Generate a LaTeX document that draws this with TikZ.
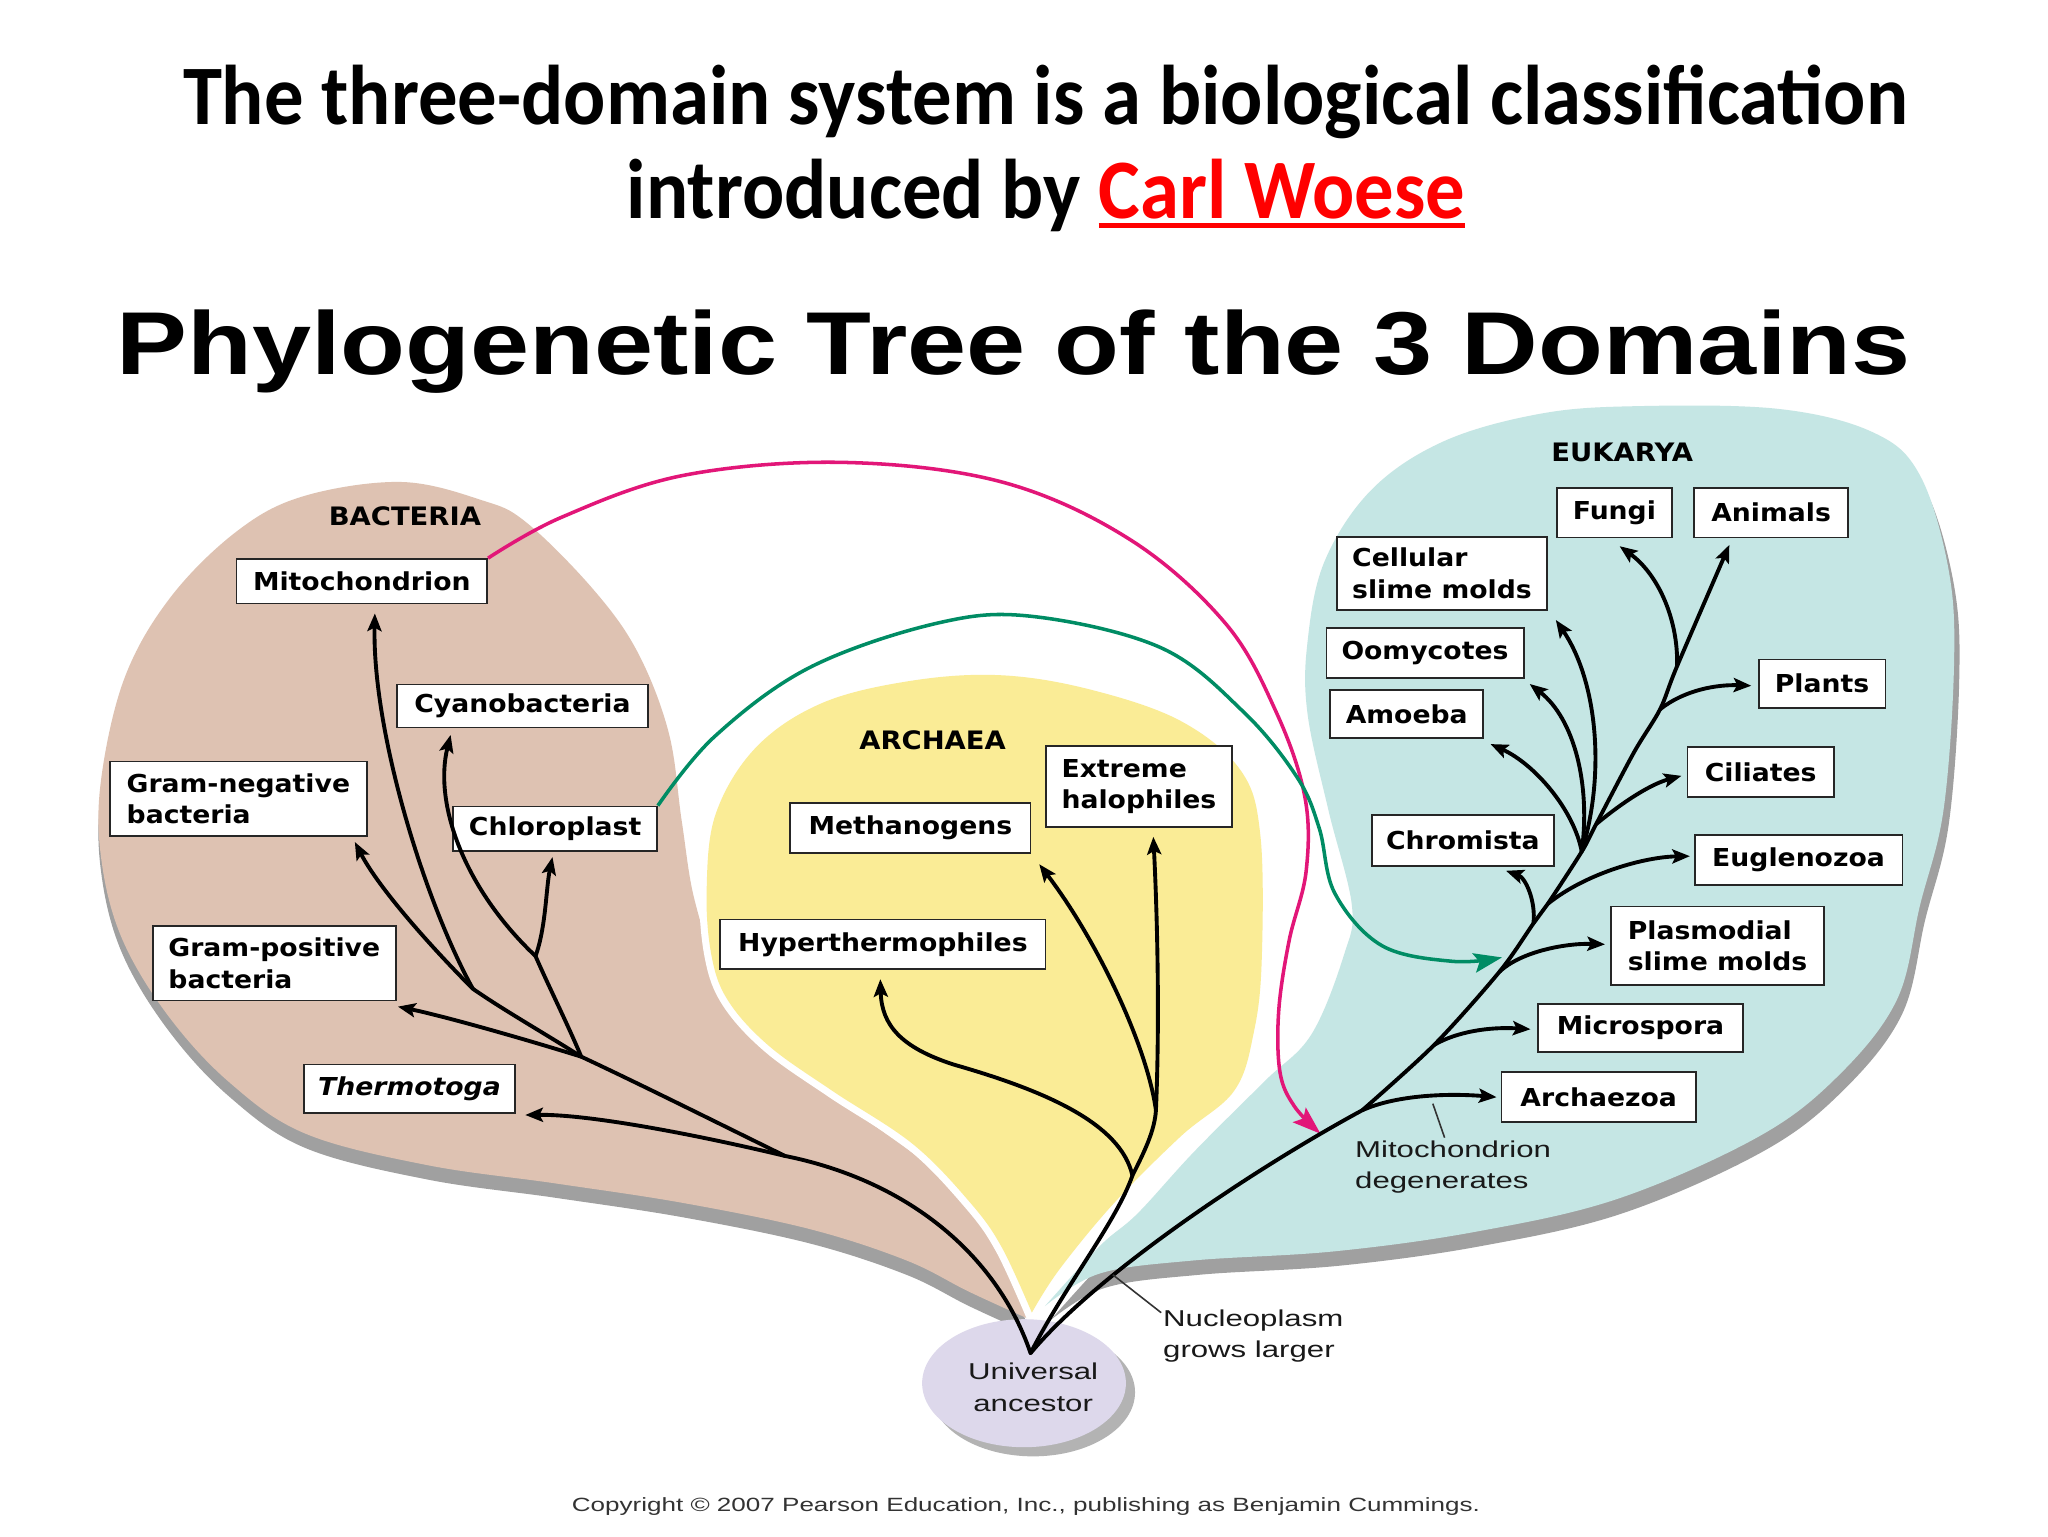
\documentclass[tikz,border=0pt]{standalone}
\usepackage{fontspec}
\usepackage{graphicx}
\usetikzlibrary{calc,arrows.meta}
\newfontfamily\titlefont{Carlito}[FakeStretch=0.93]
\newfontfamily\subfont{Liberation Sans}[FakeStretch=1.19]
\newfontfamily\boxfont{DejaVu Sans}[FakeStretch=1.08]
\newfontfamily\regfont{Liberation Sans}[FakeStretch=1.36]
\definecolor{tanc}{RGB}{222,194,178}
\definecolor{yelc}{RGB}{250,236,150}
\definecolor{bluc}{RGB}{197,230,228}
\definecolor{lavc}{RGB}{221,216,235}
\definecolor{shad}{RGB}{160,160,160}
\definecolor{pinkc}{RGB}{226,22,120}
\definecolor{greenc}{RGB}{0,140,100}
\newcommand{\tanpath}{plot[smooth,tension=0.6] coordinates {(788,1010) (742,989) (694,965) (620,941) (523,921) (425,906) (327,892) (234,868) (176,829) (129,778) (94,720) (78,661) (77,600) (95,520) (130,458) (181,407) (232,380) (307,369) (369,383) (403,400) (454,451) (488,499) (512,561) (522,629) (532,690) (552,745) (592,795) (647,845) (720,900) (767,955) (788,1010)} -- cycle}
\newcommand{\yelpath}{plot[smooth,tension=0.6] coordinates {(790,1005) (767,955) (743,921) (699,876) (637,835) (589,801) (558,767) (545,733) (541,682) (548,623) (579,572) (630,538) (699,521) (767,517) (835,528) (904,552) (950,590) (965,640) (966,735) (960,790) (945,835) (904,870) (853,921) (811,972) (790,1005)} -- cycle}
\newcommand{\blupath}{plot[smooth,tension=0.6] coordinates {(800,1000) (842,954) (871,929) (914,882) (968,828) (1004,792) (1029,731) (1035,693) (1017,620) (1001,546) (1001,492) (1014,430) (1050,375) (1105,338) (1178,317) (1251,311) (1361,313) (1434,331) (1470,364) (1492,437) (1496,510) (1488,620) (1470,693) (1452,766) (1406,825) (1345,871) (1238,918) (1130,943) (1022,958) (914,965) (842,975) (800,1000)} -- cycle}
\begin{document}
\begin{tikzpicture}[x=0.37027pt,y=-0.37027pt,
  box/.style={draw=black!85,line width=0.5pt,fill=white,inner sep=0pt,align=left,font=\boxfont\bfseries\fontsize{7.0}{8.9}\selectfont},
  bsz/.style 2 args={minimum width={#1*0.37027pt},minimum height={#2*0.37027pt}},
  dom/.style={font=\boxfont\bfseries\fontsize{7.2}{8}\selectfont,inner sep=0pt},
  note/.style={font=\regfont\fontsize{6.5}{8.9}\selectfont,align=left,inner sep=0pt,text=black!90},
  br/.style={line width=1.1pt,line cap=round,line join=round,-{Stealth[length=5pt,width=4pt,inset=1pt]}},
  tr/.style={line width=1.1pt,line cap=round,line join=round},
  leader/.style={line width=0.45pt,draw=black!80},
  xfer/.style={line width=1pt,-{Stealth[length=8pt,width=5.5pt,inset=1.5pt]}}]
\useasboundingbox (0,0) rectangle (1568,1176);
\fill[white] (0,0) rectangle (1568,1176);

% titles
\node[anchor=base,inner sep=0pt,font=\titlefont\bfseries\fontsize{24}{28}\selectfont] (t1) at (800.5,95) {The three-domain system is a biological classification};
\node[anchor=base,inner sep=0pt,font=\titlefont\bfseries\fontsize{24}{28}\selectfont] (t2) at (801,167) {introduced by \sbox0{\color{red}Carl Woese}{\color{red}\rlap{\rule[-2.8pt]{\wd0}{1.3pt}}}\usebox0};
\node[anchor=base,inner sep=0pt,font=\subfont\bfseries\fontsize{25.3}{30}\selectfont] (sub) at (776,287) {Phylogenetic Tree of the 3 Domains};

% domain shapes
\begin{scope}[shift={(4,11)}] \fill[shad] \blupath; \end{scope}
\begin{scope}[shift={(0,11)}] \fill[shad] \tanpath; \end{scope}
\fill[bluc] \blupath;
\fill[tanc] \tanpath;
\draw[white,line width=4pt,fill=white] \yelpath;
\fill[yelc] \yelpath;
\fill[shad!80] (791,1066) ellipse [x radius=78, y radius=49];
\fill[lavc] (784,1059) ellipse [x radius=78, y radius=49];

% domain labels
\node[dom] (lb) at (310,395.5) {BACTERIA};
\node[dom] (la) at (714,566.5) {ARCHAEA};
\node[dom] (le) at (1242,346) {EUKARYA};

% boxes bacteria
\node[box,bsz={192}{34}] (mito) at (277,445) {Mitochondrion};
\node[box,bsz={192}{33}] (cyano) at (400,540.5) {Cyanobacteria};
\node[box,bsz={197}{57}] (gneg) at (182.5,611.5) {Gram-negative\\bacteria};
\node[box,bsz={156}{34}] (chloro) at (425,634.5) {Chloroplast};
\node[box,bsz={186}{57}] (gpos) at (210,737.5) {Gram-positive\\bacteria};
\node[box,bsz={162}{37}] (thermo) at (313.5,833.5) {\itshape Thermotoga};
% boxes archaea
\node[box,bsz={184}{38}] (meth) at (697,634) {Methanogens};
\node[box,bsz={142}{62}] (halo) at (872,602) {Extreme\\halophiles};
\node[box,bsz={249}{38}] (hyper) at (676,723) {Hyperthermophiles};
% boxes eukarya
\node[box,bsz={88}{38}] (fungi) at (1236,392.5) {Fungi};
\node[box,bsz={118}{38}] (animals) at (1356,392.5) {Animals};
\node[box,bsz={161}{56}] (csm) at (1104,439) {Cellular\\slime molds};
\node[box,bsz={151}{38}] (oomy) at (1091,500) {Oomycotes};
\node[box,bsz={117}{37}] (amoeba) at (1077,546.5) {Amoeba};
\node[box,bsz={97}{37}] (plants) at (1395,523.5) {Plants};
\node[box,bsz={112}{38}] (ciliates) at (1348,591) {Ciliates};
\node[box,bsz={139}{39}] (chromista) at (1120,643.5) {Chromista};
\node[box,bsz={159}{38}] (eugleno) at (1377,658.5) {Euglenozoa};
\node[box,bsz={163}{60}] (plasmo) at (1315,724) {Plasmodial\\slime molds};
\node[box,bsz={157}{37}] (micro) at (1256,787) {Microspora};
\node[box,bsz={149}{38}] (archaezoa) at (1224,840) {Archaezoa};

% notes
\node[note,anchor=north west] (mdeg) at (1037,873) {Mitochondrion\\degenerates};
\node[note,anchor=north west] (nuc) at (890,1002) {Nucleoplasm\\grows larger};
\node[note,align=center] (anc) at (791,1062) {Universal\\ancestor};
\node[anchor=base,inner sep=0pt,font=\regfont\fontsize{5.43}{7}\selectfont,text=black!80] (copy) at (785.5,1157) {Copyright \textcopyright{} 2007 Pearson Education, Inc., publishing as Benjamin Cummings.};

% junctions and tips
\coordinate (root) at (789,1036);
\coordinate (bJ1) at (601,885);
\coordinate (bJ2) at (445,809);
\coordinate (bJ3) at (362,757);
\coordinate (bJ4) at (410,732);
\coordinate (aJ) at (885,850);
\coordinate (hJ) at (867,900);
\coordinate (eJ1) at (1043,850);
\coordinate (eJ2) at (1098,800);
\coordinate (eJ3) at (1148,744);
\coordinate (eJ4) at (1174,707);
\coordinate (eJ5) at (1185,692);
\coordinate (eJ6) at (1211,652);
\coordinate (eJ6b) at (1222,631);
\coordinate (eJ7) at (1271,543);
\coordinate (eJ8) at (1284,510);
\coordinate (tMito) at ($(mito.south)+(10,7)$);
\coordinate (tCyano) at ($(cyano.south)+(-55,5)$);
\coordinate (tGneg) at ($(gneg.south east)+(-10,4)$);
\coordinate (tChloro) at ($(chloro.south)+(-2,4)$);
\coordinate (tGpos) at ($(gpos.south east)+(1,4)$);
\coordinate (tTherm) at ($(thermo.south east)+(7,1)$);
\coordinate (tMeth) at ($(meth.south east)+(6,8)$);
\coordinate (tHalo) at ($(halo.south)+(11,7)$);
\coordinate (tHyper) at ($(hyper.south)+(-2,7)$);
\coordinate (tFungi) at ($(fungi.south)+(4,6)$);
\coordinate (tAnim) at ($(animals.south)+(-32,5)$);
\coordinate (tCsm) at ($(csm.south east)+(6,7)$);
\coordinate (tOomy) at ($(oomy.south east)+(4,4)$);
\coordinate (tAmoe) at ($(amoeba.south east)+(5,4)$);
\coordinate (tPlant) at ($(plants.west)+(-5,1.5)$);
\coordinate (tCil) at ($(ciliates.west)+(-4,3)$);
\coordinate (tChrom) at ($(chromista.south)+(33,3)$);
\coordinate (tEugl) at ($(eugleno.west)+(-3,-3)$);
\coordinate (tPlas) at ($(plasmo.west)+(-4,-1)$);
\coordinate (tMicro) at ($(micro.west)+(-5,1)$);
\coordinate (tArch) at ($(archaezoa.west)+(-3,0)$);
\coordinate (ptip) at (1011,868);
\coordinate (gtip) at (1150,733);
\coordinate (lm) at (1097,845);
\coordinate (ln) at (852,976);

% endosymbiosis transfers
\draw[xfer,pinkc] plot[smooth,tension=0.6] coordinates {(mito.north east) (430,396) (523,364) (645,354) (767,369) (865,413) (938,477) (977,545) (999,610) (1000,667) (987,720) (979,774) (980,821) (991,847) (ptip)};
\draw[xfer,greenc] plot[smooth,tension=0.6] coordinates {(chloro.north east) (547,564) (620,511) (718,477) (791,472) (889,496) (952,545) (993,595) (1010,634) (1022,684) (1058,724) (1112,736) (gtip)};

% bacteria tree
\draw[tr] (root) .. controls (765,965) and (700,905) .. (bJ1);
\draw[tr] (bJ1) .. controls (550,860) and (490,830) .. (bJ2);
\draw[br] (bJ1) .. controls (530,868) and (450,853) .. (tTherm);
\draw[br] (bJ2) .. controls (400,795) and (340,778) .. (tGpos);
\draw[tr] (bJ2) .. controls (415,790) and (385,773) .. (bJ3);
\draw[br] (bJ3) .. controls (330,725) and (290,680) .. (tGneg);
\draw[br] (bJ3) .. controls (325,690) and (285,560) .. (tMito);
\draw[tr] (bJ2) .. controls (435,785) and (420,755) .. (bJ4);
\draw[br] (bJ4) .. controls (355,680) and (332,615) .. (tCyano);
\draw[br] (bJ4) .. controls (418,710) and (418,680) .. (tChloro);

% archaea tree
\draw[tr] (root) .. controls (815,985) and (855,935) .. (hJ);
\draw[tr] (hJ) .. controls (876,882) and (884,866) .. (aJ);
\draw[br] (aJ) .. controls (888,780) and (886,700) .. (tHalo);
\draw[br] (aJ) .. controls (878,800) and (840,720) .. (tMeth);
\draw[br] (hJ) .. controls (858,860) and (800,835) .. (730,815) .. controls (690,802) and (675,785) .. (tHyper);

% eukarya tree
\draw[tr] (root) .. controls (840,975) and (960,895) .. (eJ1);
\draw[br] plot[smooth,tension=0.5] coordinates {(eJ1) (eJ2) (eJ3) (eJ4) (eJ5) (eJ6) (eJ6b) (1251,576) (eJ7) (eJ8) (tAnim)};
\draw[br] (eJ1) .. controls (1070,838) and (1110,837) .. (tArch);
\draw[br] (eJ2) .. controls (1115,790) and (1140,786) .. (tMicro);
\draw[br] (eJ3) .. controls (1165,728) and (1200,722) .. (tPlas);
\draw[br] (eJ4) .. controls (1176,690) and (1168,672) .. (tChrom);
\draw[br] (eJ5) .. controls (1215,668) and (1260,656) .. (tEugl);
\draw[br] (eJ6) .. controls (1205,620) and (1175,585) .. (tAmoe);
\draw[br] (eJ6) .. controls (1218,600) and (1205,550) .. (tOomy);
\draw[br] (eJ6) .. controls (1230,590) and (1222,520) .. (tCsm);
\draw[br] (eJ6b) .. controls (1245,612) and (1265,600) .. (tCil);
\draw[br] (eJ7) .. controls (1290,528) and (1315,524) .. (tPlant);
\draw[br] (eJ8) .. controls (1285,475) and (1270,440) .. (tFungi);

% leaders
\draw[leader] ($(mdeg.north west)+(69,-2)$) -- (lm);
\draw[leader] ($(nuc.north west)+(-1,3)$) -- (ln);
\end{tikzpicture}
\end{document}
